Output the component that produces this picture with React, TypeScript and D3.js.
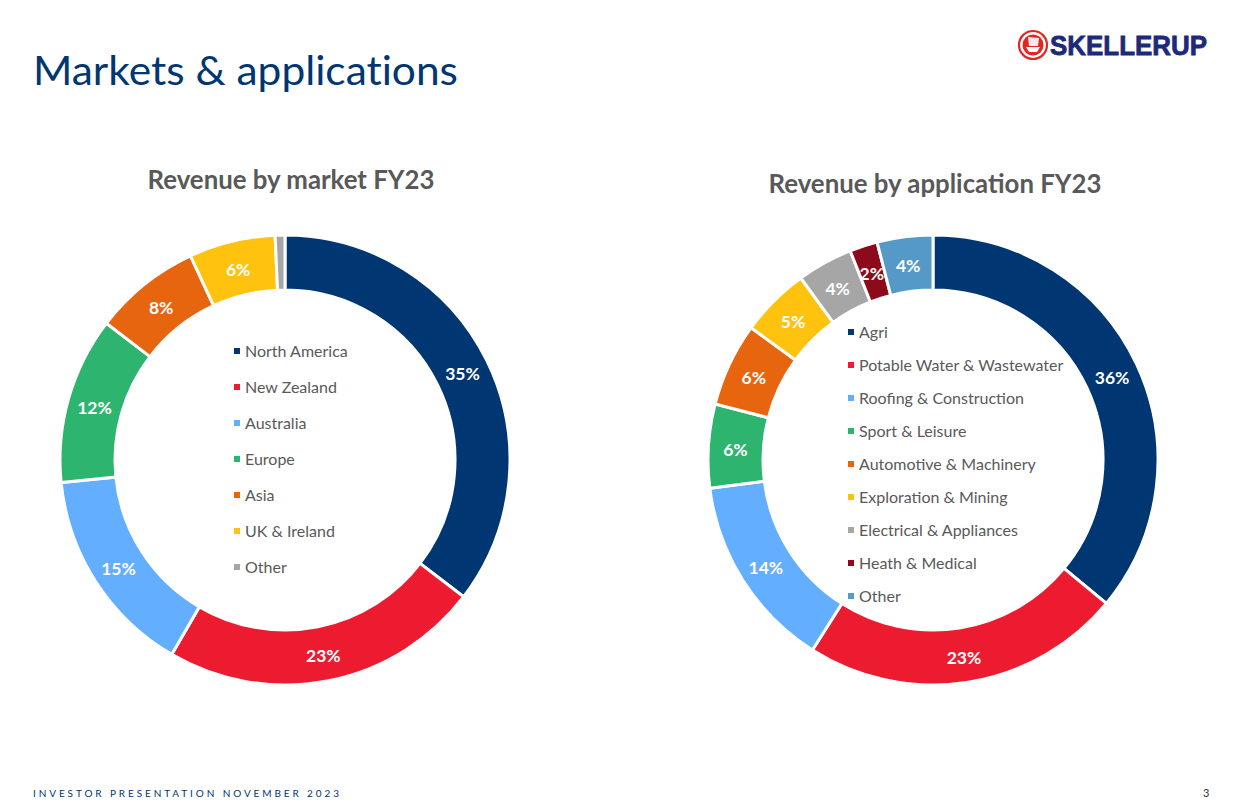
import React from "react";
import * as d3 from "d3";

const marketCategories = ["North America", "New Zealand", "Australia", "Europe", "Asia", "UK & Ireland", "Other"];
const marketValues = [35.4, 23, 15, 12, 7.7, 6.2, 0.7];
const marketLabels = ["35%", "23%", "15%", "12%", "8%", "6%", ""];
const marketColors = ["#003671", "#ED1B30", "#63AEFF", "#2DB46E", "#E8650F", "#FFC20F", "#A6A6A6"];

const appCategories = [
  "Agri",
  "Potable Water & Wastewater",
  "Roofing & Construction",
  "Sport & Leisure",
  "Automotive & Machinery",
  "Exploration & Mining",
  "Electrical & Appliances",
  "Heath & Medical",
  "Other",
];
const appValues = [36, 23, 14, 6, 6, 5, 4, 2, 4];
const appLabels = ["36%", "23%", "14%", "6%", "6%", "5%", "4%", "2%", "4%"];
const appColors = ["#003671", "#ED1B30", "#63AEFF", "#2DB46E", "#E8650F", "#FFC20F", "#A6A6A6", "#8C0A19", "#5499C7"];

const FONT = "Lato, 'Open Sans', sans-serif";

type DonutProps = {
  cx: number;
  cy: number;
  values: number[];
  labels: string[];
  colors: string[];
  categories: string[];
  legendX: number;
  legendY: number;
  legendStep: number;
  title: string;
  titleY: number;
  titleX: number;
};

function Donut(p: DonutProps) {
  const outer = 225;
  const inner = 170;
  const pie = d3.pie<number>().sort(null).value((d) => d)(p.values);
  const arc = d3.arc<d3.PieArcDatum<number>>().innerRadius(inner).outerRadius(outer);
  const labelArc = d3.arc<d3.PieArcDatum<number>>().innerRadius(198).outerRadius(198);
  return (
    <g>
      <text x={p.titleX} y={p.titleY} textAnchor="middle" fontFamily={FONT} fontWeight={700} fontSize={25.8} fill="#595959">
        {p.title}
      </text>
      <g transform={`translate(${p.cx},${p.cy})`}>
        {pie.map((d, i) => (
          <path key={i} d={arc(d) || ""} fill={p.colors[i]} stroke="#fff" strokeWidth={3} />
        ))}
        {pie.map((d, i) => {
          const [x, y] = labelArc.centroid(d);
          return (
            <text key={"l" + i} x={x} y={y + 2} dy="0.35em" textAnchor="middle" fontFamily={FONT} fontWeight={700} fontSize={17.5} fill="#fff">
              {p.labels[i]}
            </text>
          );
        })}
      </g>
      {p.categories.map((c, i) => (
        <g key={"g" + i} transform={`translate(${p.legendX},${p.legendY + i * p.legendStep})`}>
          <rect x={0} y={-3} width={6} height={6} fill={p.colors[i]} />
          <text x={11} y={0} dy="0.35em" fontFamily={FONT} fontSize={16} fill="#595959">
            {c}
          </text>
        </g>
      ))}
    </g>
  );
}

export default function App() {
  return (
    <div style={{ position: "absolute", left: 0, top: 0 }}>
      <svg width={1233} height={808} style={{ display: "block", background: "#fff" }}>
        <text x={33} y={85} fontFamily={FONT} fontSize={41} fill="#003671" textLength={425} lengthAdjust="spacingAndGlyphs" style={{ fontVariantLigatures: "none" }}>
          Markets &amp; applications
        </text>
        {/* logo */}
        <g>
          <circle cx={1033} cy={45} r={14} fill="#fff" stroke="#E52521" strokeWidth={2.2} />
          <circle cx={1033} cy={45} r={10.5} fill="#E52521" />
          <path d="M1026,47 L1040,47 L1037,52 L1029,52 Z" fill="#fff" />
          <path d="M1028,37 L1039,38 L1038,46 L1029,46 Z" fill="#fff" opacity={0.9} />
          <text x={1050} y={55} fontFamily="'Liberation Sans', Arial, sans-serif" fontWeight={900} fontSize={27} fill="#1D2A7A" textLength={157} lengthAdjust="spacingAndGlyphs" stroke="#1D2A7A" strokeWidth={0.8}>
            SKELLERUP
          </text>
        </g>
        <Donut
          cx={285}
          cy={460}
          values={marketValues}
          labels={marketLabels}
          colors={marketColors}
          categories={marketCategories}
          legendX={234}
          legendY={351}
          legendStep={36}
          title="Revenue by market FY23"
          titleX={291}
          titleY={189}
        />
        <Donut
          cx={933}
          cy={460}
          values={appValues}
          labels={appLabels}
          colors={appColors}
          categories={appCategories}
          legendX={848}
          legendY={332}
          legendStep={33}
          title="Revenue by application FY23"
          titleX={935}
          titleY={193}
        />
        <text x={33} y={797} fontFamily={FONT} fontSize={10} letterSpacing={2.9} fill="#003671">
          INVESTOR PRESENTATION NOVEMBER 2023
        </text>
        <text x={1203} y={797} fontFamily={FONT} fontSize={11} fill="#333">
          3
        </text>
      </svg>
    </div>
  );
}
